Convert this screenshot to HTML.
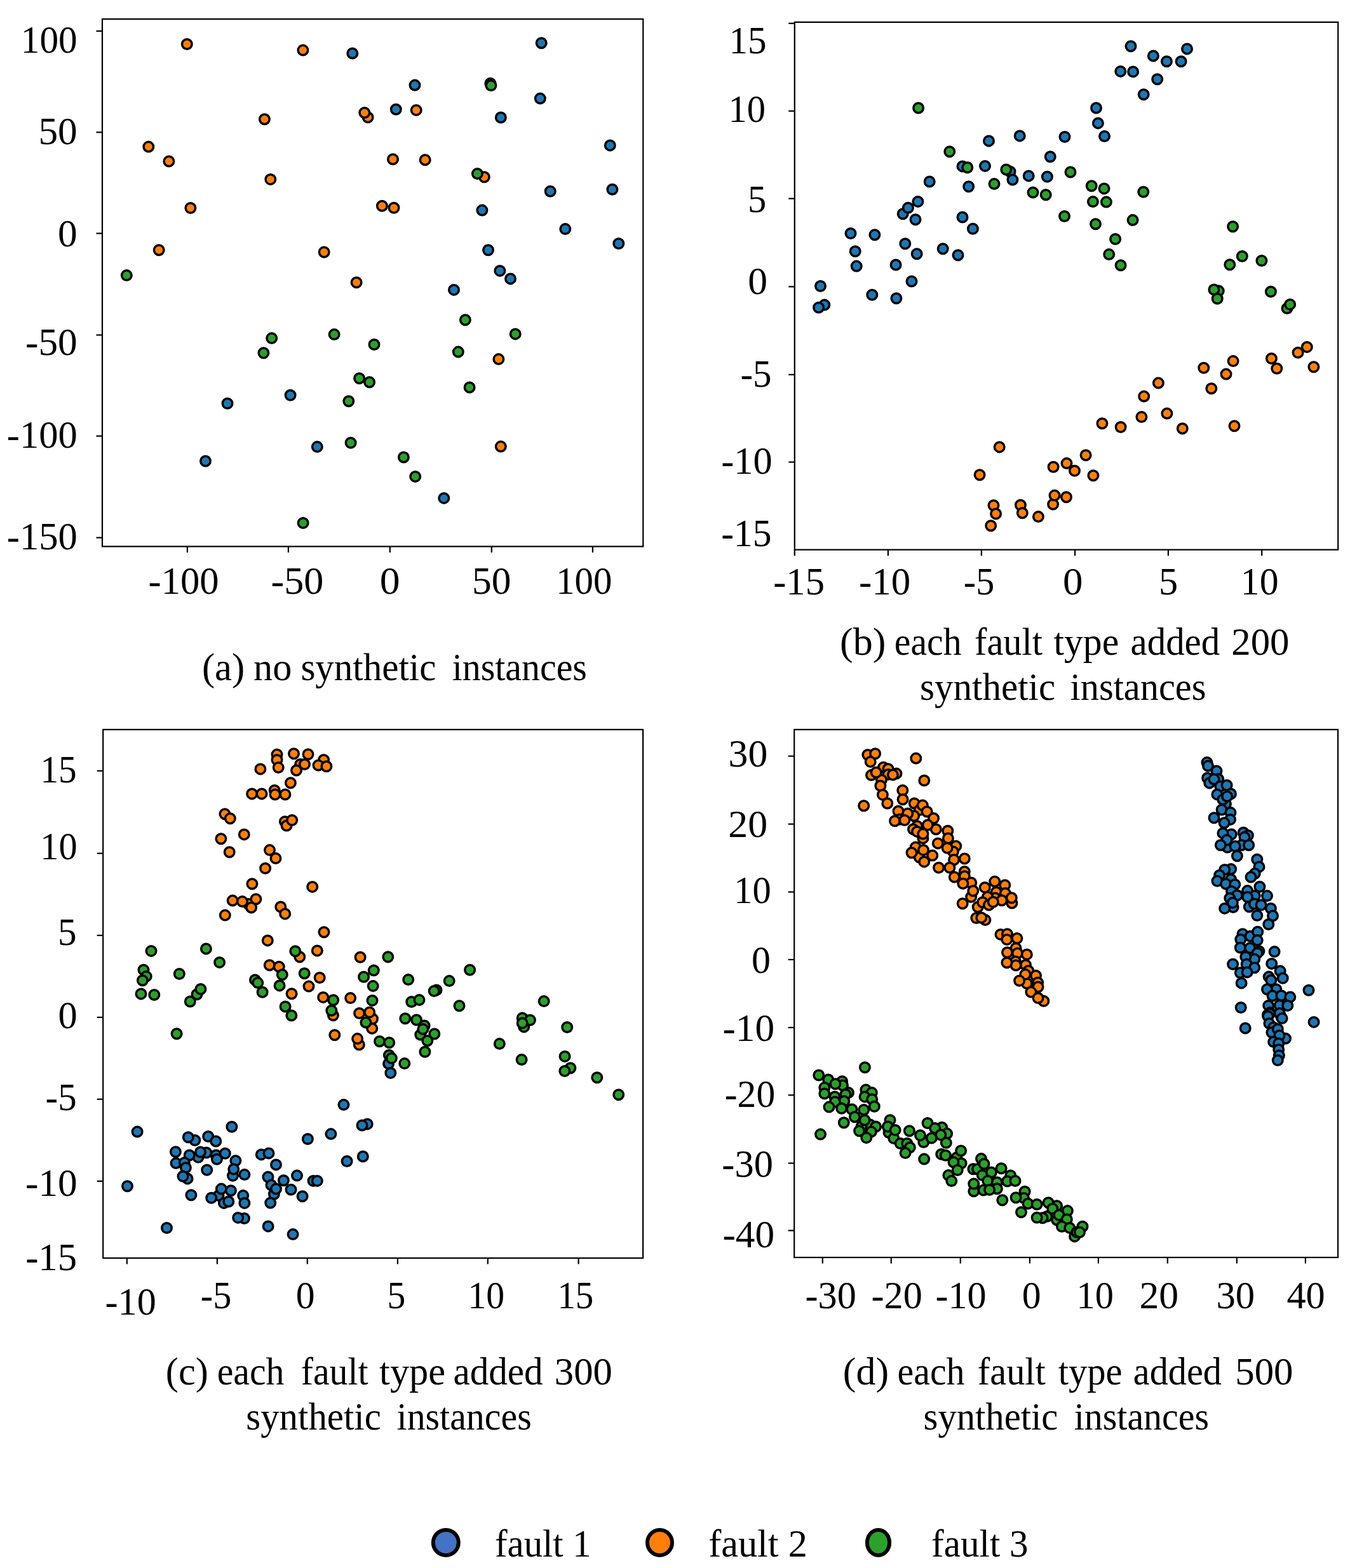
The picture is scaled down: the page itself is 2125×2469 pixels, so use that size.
<!DOCTYPE html>
<html><head><meta charset="utf-8"><title>t-SNE fault scatter plots</title>
<style>
html,body{margin:0;padding:0;background:#fff;}
body{width:2125px;height:2469px;overflow:hidden;}
svg{display:block;}
text{font-family:"Liberation Serif","Times New Roman",serif;fill:#000;font-kerning:none;}
</style></head><body>
<svg width="2125" height="2469" viewBox="0 0 2125 2469">
<rect width="2125" height="2469" fill="#fff"/>
<g stroke="#000" stroke-width="3.5">
<circle cx="294.3" cy="69.5" r="7.75" fill="#ff7f0e"/>
<circle cx="476.9" cy="79.1" r="7.75" fill="#ff7f0e"/>
<circle cx="554.8" cy="84.0" r="7.75" fill="#1f77b4"/>
<circle cx="579.1" cy="184.8" r="7.75" fill="#ff7f0e"/>
<circle cx="573.8" cy="177.5" r="7.75" fill="#ff7f0e"/>
<circle cx="416.4" cy="187.7" r="7.75" fill="#ff7f0e"/>
<circle cx="233.8" cy="231.1" r="7.75" fill="#ff7f0e"/>
<circle cx="265.9" cy="254.0" r="7.75" fill="#ff7f0e"/>
<circle cx="425.8" cy="282.4" r="7.75" fill="#ff7f0e"/>
<circle cx="299.9" cy="327.5" r="7.75" fill="#ff7f0e"/>
<circle cx="250.2" cy="393.8" r="7.75" fill="#ff7f0e"/>
<circle cx="510.2" cy="397.0" r="7.75" fill="#ff7f0e"/>
<circle cx="199.3" cy="433.6" r="7.75" fill="#2ca02c"/>
<circle cx="561.1" cy="444.7" r="7.75" fill="#ff7f0e"/>
<circle cx="852.2" cy="67.8" r="7.75" fill="#1f77b4"/>
<circle cx="653.0" cy="134.1" r="7.75" fill="#1f77b4"/>
<circle cx="771.9" cy="131.2" r="7.75" fill="#1f77b4"/>
<circle cx="772.9" cy="134.6" r="7.75" fill="#2ca02c"/>
<circle cx="850.3" cy="155.1" r="7.75" fill="#1f77b4"/>
<circle cx="623.3" cy="172.2" r="7.75" fill="#1f77b4"/>
<circle cx="655.2" cy="173.4" r="7.75" fill="#ff7f0e"/>
<circle cx="788.3" cy="185.0" r="7.75" fill="#1f77b4"/>
<circle cx="960.3" cy="228.9" r="7.75" fill="#1f77b4"/>
<circle cx="618.5" cy="250.8" r="7.75" fill="#ff7f0e"/>
<circle cx="669.2" cy="251.8" r="7.75" fill="#ff7f0e"/>
<circle cx="762.3" cy="278.8" r="7.75" fill="#ff7f0e"/>
<circle cx="751.4" cy="273.5" r="7.75" fill="#2ca02c"/>
<circle cx="866.2" cy="301.2" r="7.75" fill="#1f77b4"/>
<circle cx="963.9" cy="298.3" r="7.75" fill="#1f77b4"/>
<circle cx="601.4" cy="324.2" r="7.75" fill="#ff7f0e"/>
<circle cx="620.0" cy="327.3" r="7.75" fill="#ff7f0e"/>
<circle cx="758.9" cy="331.1" r="7.75" fill="#1f77b4"/>
<circle cx="889.8" cy="360.6" r="7.75" fill="#1f77b4"/>
<circle cx="973.8" cy="383.5" r="7.75" fill="#1f77b4"/>
<circle cx="768.5" cy="393.8" r="7.75" fill="#1f77b4"/>
<circle cx="786.9" cy="426.4" r="7.75" fill="#1f77b4"/>
<circle cx="803.5" cy="438.9" r="7.75" fill="#1f77b4"/>
<circle cx="427.7" cy="532.6" r="7.75" fill="#2ca02c"/>
<circle cx="414.9" cy="555.8" r="7.75" fill="#2ca02c"/>
<circle cx="526.1" cy="526.6" r="7.75" fill="#2ca02c"/>
<circle cx="565.6" cy="595.8" r="7.75" fill="#2ca02c"/>
<circle cx="581.6" cy="601.8" r="7.75" fill="#2ca02c"/>
<circle cx="457.1" cy="622.3" r="7.75" fill="#1f77b4"/>
<circle cx="358.0" cy="635.3" r="7.75" fill="#1f77b4"/>
<circle cx="548.8" cy="631.7" r="7.75" fill="#2ca02c"/>
<circle cx="552.1" cy="697.3" r="7.75" fill="#2ca02c"/>
<circle cx="499.3" cy="703.6" r="7.75" fill="#1f77b4"/>
<circle cx="323.5" cy="726.0" r="7.75" fill="#1f77b4"/>
<circle cx="477.1" cy="823.5" r="7.75" fill="#2ca02c"/>
<circle cx="589.0" cy="542.5" r="7.75" fill="#2ca02c"/>
<circle cx="714.5" cy="456.4" r="7.75" fill="#1f77b4"/>
<circle cx="732.4" cy="503.7" r="7.75" fill="#2ca02c"/>
<circle cx="811.2" cy="525.9" r="7.75" fill="#2ca02c"/>
<circle cx="721.3" cy="554.1" r="7.75" fill="#2ca02c"/>
<circle cx="784.9" cy="565.6" r="7.75" fill="#ff7f0e"/>
<circle cx="739.1" cy="610.0" r="7.75" fill="#2ca02c"/>
<circle cx="788.3" cy="703.1" r="7.75" fill="#ff7f0e"/>
<circle cx="635.4" cy="720.0" r="7.75" fill="#2ca02c"/>
<circle cx="653.7" cy="750.4" r="7.75" fill="#2ca02c"/>
<circle cx="698.8" cy="784.4" r="7.75" fill="#1f77b4"/>
<circle cx="1445.6" cy="170.0" r="7.75" fill="#2ca02c"/>
<circle cx="1605.2" cy="213.9" r="7.75" fill="#1f77b4"/>
<circle cx="1556.5" cy="221.9" r="7.75" fill="#1f77b4"/>
<circle cx="1494.8" cy="238.8" r="7.75" fill="#2ca02c"/>
<circle cx="1653.2" cy="246.7" r="7.75" fill="#1f77b4"/>
<circle cx="1515.0" cy="261.9" r="7.75" fill="#1f77b4"/>
<circle cx="1522.8" cy="263.8" r="7.75" fill="#2ca02c"/>
<circle cx="1550.5" cy="261.4" r="7.75" fill="#1f77b4"/>
<circle cx="1590.0" cy="270.3" r="7.75" fill="#1f77b4"/>
<circle cx="1593.9" cy="283.1" r="7.75" fill="#1f77b4"/>
<circle cx="1583.8" cy="267.0" r="7.75" fill="#2ca02c"/>
<circle cx="1619.2" cy="276.9" r="7.75" fill="#1f77b4"/>
<circle cx="1648.4" cy="278.3" r="7.75" fill="#1f77b4"/>
<circle cx="1463.2" cy="286.0" r="7.75" fill="#1f77b4"/>
<circle cx="1524.7" cy="293.7" r="7.75" fill="#1f77b4"/>
<circle cx="1565.0" cy="289.6" r="7.75" fill="#2ca02c"/>
<circle cx="1626.0" cy="303.1" r="7.75" fill="#2ca02c"/>
<circle cx="1646.2" cy="306.8" r="7.75" fill="#2ca02c"/>
<circle cx="1444.9" cy="317.4" r="7.75" fill="#1f77b4"/>
<circle cx="1421.2" cy="336.7" r="7.75" fill="#1f77b4"/>
<circle cx="1429.4" cy="327.3" r="7.75" fill="#1f77b4"/>
<circle cx="1441.0" cy="345.8" r="7.75" fill="#1f77b4"/>
<circle cx="1515.0" cy="342.0" r="7.75" fill="#1f77b4"/>
<circle cx="1531.4" cy="360.3" r="7.75" fill="#1f77b4"/>
<circle cx="1339.0" cy="367.5" r="7.75" fill="#1f77b4"/>
<circle cx="1376.9" cy="369.7" r="7.75" fill="#1f77b4"/>
<circle cx="1424.8" cy="383.7" r="7.75" fill="#1f77b4"/>
<circle cx="1346.2" cy="395.7" r="7.75" fill="#1f77b4"/>
<circle cx="1443.2" cy="399.8" r="7.75" fill="#1f77b4"/>
<circle cx="1484.2" cy="391.7" r="7.75" fill="#1f77b4"/>
<circle cx="1508.0" cy="401.8" r="7.75" fill="#1f77b4"/>
<circle cx="1348.2" cy="419.1" r="7.75" fill="#1f77b4"/>
<circle cx="1410.1" cy="417.0" r="7.75" fill="#1f77b4"/>
<circle cx="1435.0" cy="443.0" r="7.75" fill="#1f77b4"/>
<circle cx="1676.0" cy="215.5" r="7.75" fill="#1f77b4"/>
<circle cx="1685.0" cy="271.0" r="7.75" fill="#2ca02c"/>
<circle cx="1675.5" cy="340.5" r="7.75" fill="#2ca02c"/>
<circle cx="1780.0" cy="72.8" r="7.75" fill="#1f77b4"/>
<circle cx="1868.5" cy="76.9" r="7.75" fill="#1f77b4"/>
<circle cx="1815.4" cy="88.0" r="7.75" fill="#1f77b4"/>
<circle cx="1836.4" cy="96.7" r="7.75" fill="#1f77b4"/>
<circle cx="1859.1" cy="96.7" r="7.75" fill="#1f77b4"/>
<circle cx="1763.8" cy="112.4" r="7.75" fill="#1f77b4"/>
<circle cx="1783.6" cy="112.9" r="7.75" fill="#1f77b4"/>
<circle cx="1821.7" cy="124.7" r="7.75" fill="#1f77b4"/>
<circle cx="1800.2" cy="148.8" r="7.75" fill="#1f77b4"/>
<circle cx="1725.5" cy="170.0" r="7.75" fill="#1f77b4"/>
<circle cx="1728.4" cy="193.9" r="7.75" fill="#1f77b4"/>
<circle cx="1738.5" cy="214.6" r="7.75" fill="#1f77b4"/>
<circle cx="1718.2" cy="292.8" r="7.75" fill="#2ca02c"/>
<circle cx="1738.0" cy="296.9" r="7.75" fill="#2ca02c"/>
<circle cx="1799.8" cy="302.2" r="7.75" fill="#2ca02c"/>
<circle cx="1720.4" cy="317.6" r="7.75" fill="#2ca02c"/>
<circle cx="1741.4" cy="318.1" r="7.75" fill="#2ca02c"/>
<circle cx="1724.5" cy="352.8" r="7.75" fill="#2ca02c"/>
<circle cx="1783.1" cy="346.6" r="7.75" fill="#2ca02c"/>
<circle cx="1940.6" cy="356.7" r="7.75" fill="#2ca02c"/>
<circle cx="1755.6" cy="376.5" r="7.75" fill="#2ca02c"/>
<circle cx="1745.7" cy="400.6" r="7.75" fill="#2ca02c"/>
<circle cx="1764.1" cy="417.7" r="7.75" fill="#2ca02c"/>
<circle cx="1955.3" cy="403.5" r="7.75" fill="#2ca02c"/>
<circle cx="1985.9" cy="410.5" r="7.75" fill="#2ca02c"/>
<circle cx="1935.8" cy="416.7" r="7.75" fill="#2ca02c"/>
<circle cx="1291.5" cy="450.5" r="7.75" fill="#1f77b4"/>
<circle cx="1372.8" cy="464.2" r="7.75" fill="#1f77b4"/>
<circle cx="1410.9" cy="469.7" r="7.75" fill="#1f77b4"/>
<circle cx="1297.8" cy="480.1" r="7.75" fill="#1f77b4"/>
<circle cx="1288.6" cy="484.2" r="7.75" fill="#1f77b4"/>
<circle cx="1573.2" cy="703.9" r="7.75" fill="#ff7f0e"/>
<circle cx="1542.1" cy="747.8" r="7.75" fill="#ff7f0e"/>
<circle cx="1658.1" cy="735.2" r="7.75" fill="#ff7f0e"/>
<circle cx="1657.6" cy="794.1" r="7.75" fill="#ff7f0e"/>
<circle cx="1660.0" cy="780.1" r="7.75" fill="#ff7f0e"/>
<circle cx="1564.0" cy="795.8" r="7.75" fill="#ff7f0e"/>
<circle cx="1567.6" cy="809.0" r="7.75" fill="#ff7f0e"/>
<circle cx="1606.4" cy="795.3" r="7.75" fill="#ff7f0e"/>
<circle cx="1609.3" cy="807.8" r="7.75" fill="#ff7f0e"/>
<circle cx="1634.4" cy="813.6" r="7.75" fill="#ff7f0e"/>
<circle cx="1559.7" cy="827.8" r="7.75" fill="#ff7f0e"/>
<circle cx="1679.0" cy="729.6" r="7.75" fill="#ff7f0e"/>
<circle cx="1678.5" cy="782.7" r="7.75" fill="#ff7f0e"/>
<circle cx="1918.2" cy="458.1" r="7.75" fill="#2ca02c"/>
<circle cx="1910.9" cy="456.0" r="7.75" fill="#2ca02c"/>
<circle cx="1916.2" cy="470.2" r="7.75" fill="#2ca02c"/>
<circle cx="2000.4" cy="459.3" r="7.75" fill="#2ca02c"/>
<circle cx="2026.0" cy="485.6" r="7.75" fill="#2ca02c"/>
<circle cx="2030.6" cy="479.4" r="7.75" fill="#2ca02c"/>
<circle cx="2057.3" cy="546.4" r="7.75" fill="#ff7f0e"/>
<circle cx="2043.1" cy="555.3" r="7.75" fill="#ff7f0e"/>
<circle cx="2001.4" cy="564.5" r="7.75" fill="#ff7f0e"/>
<circle cx="2009.8" cy="580.2" r="7.75" fill="#ff7f0e"/>
<circle cx="2067.9" cy="577.7" r="7.75" fill="#ff7f0e"/>
<circle cx="1941.1" cy="568.6" r="7.75" fill="#ff7f0e"/>
<circle cx="1894.8" cy="579.2" r="7.75" fill="#ff7f0e"/>
<circle cx="1930.0" cy="589.1" r="7.75" fill="#ff7f0e"/>
<circle cx="1906.8" cy="611.8" r="7.75" fill="#ff7f0e"/>
<circle cx="1823.4" cy="603.1" r="7.75" fill="#ff7f0e"/>
<circle cx="1800.7" cy="624.1" r="7.75" fill="#ff7f0e"/>
<circle cx="1796.9" cy="656.6" r="7.75" fill="#ff7f0e"/>
<circle cx="1836.9" cy="651.1" r="7.75" fill="#ff7f0e"/>
<circle cx="1734.9" cy="666.7" r="7.75" fill="#ff7f0e"/>
<circle cx="1764.1" cy="672.5" r="7.75" fill="#ff7f0e"/>
<circle cx="1861.3" cy="674.7" r="7.75" fill="#ff7f0e"/>
<circle cx="1943.0" cy="670.8" r="7.75" fill="#ff7f0e"/>
<circle cx="1709.1" cy="716.7" r="7.75" fill="#ff7f0e"/>
<circle cx="1691.5" cy="741.3" r="7.75" fill="#ff7f0e"/>
<circle cx="1720.9" cy="748.7" r="7.75" fill="#ff7f0e"/>
<circle cx="436.0" cy="1188.1" r="7.75" fill="#ff7f0e"/>
<circle cx="436.0" cy="1196.5" r="7.75" fill="#ff7f0e"/>
<circle cx="438.2" cy="1208.6" r="7.75" fill="#ff7f0e"/>
<circle cx="462.5" cy="1186.7" r="7.75" fill="#ff7f0e"/>
<circle cx="485.0" cy="1187.8" r="7.75" fill="#ff7f0e"/>
<circle cx="472.7" cy="1203.5" r="7.75" fill="#ff7f0e"/>
<circle cx="479.5" cy="1203.5" r="7.75" fill="#ff7f0e"/>
<circle cx="466.5" cy="1213.0" r="7.75" fill="#ff7f0e"/>
<circle cx="509.6" cy="1196.5" r="7.75" fill="#ff7f0e"/>
<circle cx="501.0" cy="1205.1" r="7.75" fill="#ff7f0e"/>
<circle cx="513.9" cy="1206.7" r="7.75" fill="#ff7f0e"/>
<circle cx="409.9" cy="1210.9" r="7.75" fill="#ff7f0e"/>
<circle cx="457.4" cy="1232.7" r="7.75" fill="#ff7f0e"/>
<circle cx="396.6" cy="1249.9" r="7.75" fill="#ff7f0e"/>
<circle cx="412.0" cy="1249.9" r="7.75" fill="#ff7f0e"/>
<circle cx="432.2" cy="1244.4" r="7.75" fill="#ff7f0e"/>
<circle cx="433.0" cy="1251.0" r="7.75" fill="#ff7f0e"/>
<circle cx="448.9" cy="1251.0" r="7.75" fill="#ff7f0e"/>
<circle cx="353.9" cy="1281.7" r="7.75" fill="#ff7f0e"/>
<circle cx="362.3" cy="1288.8" r="7.75" fill="#ff7f0e"/>
<circle cx="448.4" cy="1293.8" r="7.75" fill="#ff7f0e"/>
<circle cx="451.1" cy="1300.1" r="7.75" fill="#ff7f0e"/>
<circle cx="459.7" cy="1291.5" r="7.75" fill="#ff7f0e"/>
<circle cx="384.3" cy="1313.9" r="7.75" fill="#ff7f0e"/>
<circle cx="347.9" cy="1320.7" r="7.75" fill="#ff7f0e"/>
<circle cx="361.2" cy="1341.7" r="7.75" fill="#ff7f0e"/>
<circle cx="424.5" cy="1338.6" r="7.75" fill="#ff7f0e"/>
<circle cx="434.0" cy="1351.6" r="7.75" fill="#ff7f0e"/>
<circle cx="417.6" cy="1367.3" r="7.75" fill="#ff7f0e"/>
<circle cx="396.9" cy="1391.7" r="7.75" fill="#ff7f0e"/>
<circle cx="491.7" cy="1396.4" r="7.75" fill="#ff7f0e"/>
<circle cx="441.8" cy="1428.0" r="7.75" fill="#ff7f0e"/>
<circle cx="366.2" cy="1418.1" r="7.75" fill="#ff7f0e"/>
<circle cx="390.8" cy="1423.6" r="7.75" fill="#ff7f0e"/>
<circle cx="381.4" cy="1419.6" r="7.75" fill="#ff7f0e"/>
<circle cx="402.9" cy="1415.7" r="7.75" fill="#ff7f0e"/>
<circle cx="395.6" cy="1429.1" r="7.75" fill="#ff7f0e"/>
<circle cx="354.3" cy="1441.1" r="7.75" fill="#ff7f0e"/>
<circle cx="421.3" cy="1480.9" r="7.75" fill="#ff7f0e"/>
<circle cx="424.3" cy="1519.7" r="7.75" fill="#ff7f0e"/>
<circle cx="238.0" cy="1497.4" r="7.75" fill="#2ca02c"/>
<circle cx="324.4" cy="1493.9" r="7.75" fill="#2ca02c"/>
<circle cx="345.6" cy="1515.4" r="7.75" fill="#2ca02c"/>
<circle cx="226.0" cy="1527.2" r="7.75" fill="#2ca02c"/>
<circle cx="230.2" cy="1537.4" r="7.75" fill="#2ca02c"/>
<circle cx="224.4" cy="1543.7" r="7.75" fill="#2ca02c"/>
<circle cx="282.3" cy="1533.5" r="7.75" fill="#2ca02c"/>
<circle cx="222.0" cy="1564.9" r="7.75" fill="#2ca02c"/>
<circle cx="242.8" cy="1566.5" r="7.75" fill="#2ca02c"/>
<circle cx="310.0" cy="1565.7" r="7.75" fill="#2ca02c"/>
<circle cx="315.9" cy="1557.5" r="7.75" fill="#2ca02c"/>
<circle cx="299.3" cy="1577.0" r="7.75" fill="#2ca02c"/>
<circle cx="401.5" cy="1542.9" r="7.75" fill="#2ca02c"/>
<circle cx="405.8" cy="1547.6" r="7.75" fill="#2ca02c"/>
<circle cx="413.1" cy="1562.2" r="7.75" fill="#2ca02c"/>
<circle cx="278.1" cy="1627.7" r="7.75" fill="#2ca02c"/>
<circle cx="448.7" cy="1438.9" r="7.75" fill="#ff7f0e"/>
<circle cx="510.0" cy="1467.8" r="7.75" fill="#ff7f0e"/>
<circle cx="499.3" cy="1496.9" r="7.75" fill="#ff7f0e"/>
<circle cx="471.8" cy="1506.8" r="7.75" fill="#ff7f0e"/>
<circle cx="464.8" cy="1497.7" r="7.75" fill="#2ca02c"/>
<circle cx="567.1" cy="1507.3" r="7.75" fill="#ff7f0e"/>
<circle cx="439.2" cy="1522.2" r="7.75" fill="#ff7f0e"/>
<circle cx="444.3" cy="1534.7" r="7.75" fill="#2ca02c"/>
<circle cx="503.2" cy="1539.5" r="7.75" fill="#ff7f0e"/>
<circle cx="486.0" cy="1553.1" r="7.75" fill="#ff7f0e"/>
<circle cx="459.1" cy="1564.7" r="7.75" fill="#ff7f0e"/>
<circle cx="508.7" cy="1570.4" r="7.75" fill="#ff7f0e"/>
<circle cx="551.6" cy="1571.6" r="7.75" fill="#ff7f0e"/>
<circle cx="565.6" cy="1595.5" r="7.75" fill="#ff7f0e"/>
<circle cx="586.5" cy="1604.2" r="7.75" fill="#ff7f0e"/>
<circle cx="581.7" cy="1593.9" r="7.75" fill="#ff7f0e"/>
<circle cx="585.7" cy="1619.4" r="7.75" fill="#ff7f0e"/>
<circle cx="524.4" cy="1598.7" r="7.75" fill="#ff7f0e"/>
<circle cx="526.8" cy="1629.7" r="7.75" fill="#ff7f0e"/>
<circle cx="565.3" cy="1645.0" r="7.75" fill="#ff7f0e"/>
<circle cx="562.6" cy="1635.6" r="7.75" fill="#ff7f0e"/>
<circle cx="479.2" cy="1532.7" r="7.75" fill="#2ca02c"/>
<circle cx="440.1" cy="1551.9" r="7.75" fill="#2ca02c"/>
<circle cx="610.8" cy="1506.8" r="7.75" fill="#2ca02c"/>
<circle cx="588.3" cy="1528.0" r="7.75" fill="#2ca02c"/>
<circle cx="572.6" cy="1538.2" r="7.75" fill="#2ca02c"/>
<circle cx="587.2" cy="1552.6" r="7.75" fill="#2ca02c"/>
<circle cx="642.7" cy="1542.6" r="7.75" fill="#2ca02c"/>
<circle cx="687.0" cy="1558.9" r="7.75" fill="#2ca02c"/>
<circle cx="683.2" cy="1560.5" r="7.75" fill="#2ca02c"/>
<circle cx="524.7" cy="1574.8" r="7.75" fill="#2ca02c"/>
<circle cx="521.8" cy="1591.3" r="7.75" fill="#2ca02c"/>
<circle cx="586.0" cy="1575.4" r="7.75" fill="#2ca02c"/>
<circle cx="647.7" cy="1577.5" r="7.75" fill="#2ca02c"/>
<circle cx="660.0" cy="1574.6" r="7.75" fill="#2ca02c"/>
<circle cx="449.1" cy="1585.0" r="7.75" fill="#2ca02c"/>
<circle cx="458.8" cy="1599.0" r="7.75" fill="#2ca02c"/>
<circle cx="575.9" cy="1610.1" r="7.75" fill="#2ca02c"/>
<circle cx="637.8" cy="1603.7" r="7.75" fill="#2ca02c"/>
<circle cx="655.6" cy="1606.0" r="7.75" fill="#2ca02c"/>
<circle cx="668.1" cy="1615.1" r="7.75" fill="#2ca02c"/>
<circle cx="661.8" cy="1629.3" r="7.75" fill="#2ca02c"/>
<circle cx="665.8" cy="1620.6" r="7.75" fill="#2ca02c"/>
<circle cx="683.8" cy="1628.0" r="7.75" fill="#2ca02c"/>
<circle cx="672.8" cy="1638.7" r="7.75" fill="#2ca02c"/>
<circle cx="597.5" cy="1639.8" r="7.75" fill="#2ca02c"/>
<circle cx="612.7" cy="1641.8" r="7.75" fill="#2ca02c"/>
<circle cx="668.9" cy="1656.3" r="7.75" fill="#2ca02c"/>
<circle cx="612.4" cy="1661.5" r="7.75" fill="#2ca02c"/>
<circle cx="611.6" cy="1674.9" r="7.75" fill="#1f77b4"/>
<circle cx="616.3" cy="1666.2" r="7.75" fill="#2ca02c"/>
<circle cx="739.6" cy="1527.3" r="7.75" fill="#2ca02c"/>
<circle cx="707.2" cy="1544.6" r="7.75" fill="#2ca02c"/>
<circle cx="723.0" cy="1583.7" r="7.75" fill="#2ca02c"/>
<circle cx="856.2" cy="1576.6" r="7.75" fill="#2ca02c"/>
<circle cx="822.2" cy="1602.9" r="7.75" fill="#2ca02c"/>
<circle cx="834.4" cy="1606.2" r="7.75" fill="#2ca02c"/>
<circle cx="824.7" cy="1616.9" r="7.75" fill="#2ca02c"/>
<circle cx="822.2" cy="1610.9" r="7.75" fill="#2ca02c"/>
<circle cx="892.7" cy="1617.5" r="7.75" fill="#2ca02c"/>
<circle cx="786.3" cy="1643.6" r="7.75" fill="#2ca02c"/>
<circle cx="821.1" cy="1668.6" r="7.75" fill="#2ca02c"/>
<circle cx="889.1" cy="1663.4" r="7.75" fill="#2ca02c"/>
<circle cx="897.9" cy="1681.8" r="7.75" fill="#2ca02c"/>
<circle cx="888.9" cy="1686.5" r="7.75" fill="#2ca02c"/>
<circle cx="939.8" cy="1696.8" r="7.75" fill="#2ca02c"/>
<circle cx="973.7" cy="1723.7" r="7.75" fill="#2ca02c"/>
<circle cx="216.1" cy="1782.1" r="7.75" fill="#1f77b4"/>
<circle cx="364.9" cy="1774.3" r="7.75" fill="#1f77b4"/>
<circle cx="306.8" cy="1795.5" r="7.75" fill="#1f77b4"/>
<circle cx="296.3" cy="1790.8" r="7.75" fill="#1f77b4"/>
<circle cx="327.7" cy="1789.5" r="7.75" fill="#1f77b4"/>
<circle cx="339.8" cy="1797.0" r="7.75" fill="#1f77b4"/>
<circle cx="276.4" cy="1813.8" r="7.75" fill="#1f77b4"/>
<circle cx="312.0" cy="1822.2" r="7.75" fill="#1f77b4"/>
<circle cx="298.2" cy="1819.0" r="7.75" fill="#1f77b4"/>
<circle cx="324.9" cy="1815.1" r="7.75" fill="#1f77b4"/>
<circle cx="315.5" cy="1814.0" r="7.75" fill="#1f77b4"/>
<circle cx="340.1" cy="1819.0" r="7.75" fill="#1f77b4"/>
<circle cx="341.4" cy="1825.3" r="7.75" fill="#1f77b4"/>
<circle cx="354.3" cy="1816.2" r="7.75" fill="#1f77b4"/>
<circle cx="277.0" cy="1831.6" r="7.75" fill="#1f77b4"/>
<circle cx="290.3" cy="1830.8" r="7.75" fill="#1f77b4"/>
<circle cx="292.4" cy="1838.7" r="7.75" fill="#1f77b4"/>
<circle cx="325.7" cy="1842.3" r="7.75" fill="#1f77b4"/>
<circle cx="370.9" cy="1827.7" r="7.75" fill="#1f77b4"/>
<circle cx="366.5" cy="1851.2" r="7.75" fill="#1f77b4"/>
<circle cx="367.8" cy="1841.0" r="7.75" fill="#1f77b4"/>
<circle cx="384.9" cy="1849.6" r="7.75" fill="#1f77b4"/>
<circle cx="295.1" cy="1855.9" r="7.75" fill="#1f77b4"/>
<circle cx="288.0" cy="1852.3" r="7.75" fill="#1f77b4"/>
<circle cx="411.3" cy="1817.9" r="7.75" fill="#1f77b4"/>
<circle cx="423.0" cy="1815.9" r="7.75" fill="#1f77b4"/>
<circle cx="434.5" cy="1833.9" r="7.75" fill="#1f77b4"/>
<circle cx="421.9" cy="1853.3" r="7.75" fill="#1f77b4"/>
<circle cx="427.0" cy="1866.1" r="7.75" fill="#1f77b4"/>
<circle cx="431.4" cy="1880.3" r="7.75" fill="#1f77b4"/>
<circle cx="434.5" cy="1872.1" r="7.75" fill="#1f77b4"/>
<circle cx="425.7" cy="1894.1" r="7.75" fill="#1f77b4"/>
<circle cx="200.5" cy="1867.7" r="7.75" fill="#1f77b4"/>
<circle cx="300.9" cy="1881.8" r="7.75" fill="#1f77b4"/>
<circle cx="344.0" cy="1882.6" r="7.75" fill="#1f77b4"/>
<circle cx="332.7" cy="1886.2" r="7.75" fill="#1f77b4"/>
<circle cx="348.4" cy="1872.1" r="7.75" fill="#1f77b4"/>
<circle cx="363.4" cy="1874.8" r="7.75" fill="#1f77b4"/>
<circle cx="352.4" cy="1894.4" r="7.75" fill="#1f77b4"/>
<circle cx="359.8" cy="1892.0" r="7.75" fill="#1f77b4"/>
<circle cx="382.7" cy="1882.6" r="7.75" fill="#1f77b4"/>
<circle cx="384.9" cy="1894.4" r="7.75" fill="#1f77b4"/>
<circle cx="614.8" cy="1689.5" r="7.75" fill="#1f77b4"/>
<circle cx="636.8" cy="1674.6" r="7.75" fill="#2ca02c"/>
<circle cx="541.0" cy="1739.6" r="7.75" fill="#1f77b4"/>
<circle cx="578.2" cy="1769.9" r="7.75" fill="#1f77b4"/>
<circle cx="570.0" cy="1772.0" r="7.75" fill="#1f77b4"/>
<circle cx="520.9" cy="1785.6" r="7.75" fill="#1f77b4"/>
<circle cx="484.4" cy="1793.5" r="7.75" fill="#1f77b4"/>
<circle cx="571.3" cy="1821.0" r="7.75" fill="#1f77b4"/>
<circle cx="546.1" cy="1828.5" r="7.75" fill="#1f77b4"/>
<circle cx="467.5" cy="1851.1" r="7.75" fill="#1f77b4"/>
<circle cx="446.4" cy="1858.7" r="7.75" fill="#1f77b4"/>
<circle cx="458.0" cy="1873.3" r="7.75" fill="#1f77b4"/>
<circle cx="476.1" cy="1883.8" r="7.75" fill="#1f77b4"/>
<circle cx="493.1" cy="1859.4" r="7.75" fill="#1f77b4"/>
<circle cx="499.3" cy="1859.4" r="7.75" fill="#1f77b4"/>
<circle cx="422.1" cy="1930.9" r="7.75" fill="#1f77b4"/>
<circle cx="384.5" cy="1918.5" r="7.75" fill="#1f77b4"/>
<circle cx="262.5" cy="1933.5" r="7.75" fill="#1f77b4"/>
<circle cx="374.7" cy="1917.4" r="7.75" fill="#1f77b4"/>
<circle cx="461.1" cy="1943.6" r="7.75" fill="#1f77b4"/>
<circle cx="1365.9" cy="1188.5" r="7.75" fill="#ff7f0e"/>
<circle cx="1377.6" cy="1186.7" r="7.75" fill="#ff7f0e"/>
<circle cx="1370.2" cy="1199.6" r="7.75" fill="#ff7f0e"/>
<circle cx="1441.8" cy="1194.1" r="7.75" fill="#ff7f0e"/>
<circle cx="1390.6" cy="1208.3" r="7.75" fill="#ff7f0e"/>
<circle cx="1398.0" cy="1210.7" r="7.75" fill="#ff7f0e"/>
<circle cx="1410.9" cy="1218.1" r="7.75" fill="#ff7f0e"/>
<circle cx="1398.0" cy="1219.4" r="7.75" fill="#ff7f0e"/>
<circle cx="1371.5" cy="1220.6" r="7.75" fill="#ff7f0e"/>
<circle cx="1387.5" cy="1228.0" r="7.75" fill="#ff7f0e"/>
<circle cx="1405.4" cy="1220.0" r="7.75" fill="#ff7f0e"/>
<circle cx="1379.2" cy="1216.3" r="7.75" fill="#ff7f0e"/>
<circle cx="1385.9" cy="1237.2" r="7.75" fill="#ff7f0e"/>
<circle cx="1454.8" cy="1229.0" r="7.75" fill="#ff7f0e"/>
<circle cx="1420.8" cy="1244.4" r="7.75" fill="#ff7f0e"/>
<circle cx="1421.1" cy="1258.8" r="7.75" fill="#ff7f0e"/>
<circle cx="1389.4" cy="1251.4" r="7.75" fill="#ff7f0e"/>
<circle cx="1396.8" cy="1265.0" r="7.75" fill="#ff7f0e"/>
<circle cx="1359.7" cy="1268.7" r="7.75" fill="#ff7f0e"/>
<circle cx="1439.3" cy="1265.0" r="7.75" fill="#ff7f0e"/>
<circle cx="1447.3" cy="1275.5" r="7.75" fill="#ff7f0e"/>
<circle cx="1452.3" cy="1268.1" r="7.75" fill="#ff7f0e"/>
<circle cx="1414.0" cy="1277.3" r="7.75" fill="#ff7f0e"/>
<circle cx="1459.1" cy="1278.0" r="7.75" fill="#ff7f0e"/>
<circle cx="1438.7" cy="1284.8" r="7.75" fill="#ff7f0e"/>
<circle cx="1428.8" cy="1281.0" r="7.75" fill="#ff7f0e"/>
<circle cx="1415.9" cy="1290.3" r="7.75" fill="#ff7f0e"/>
<circle cx="1408.5" cy="1292.8" r="7.75" fill="#ff7f0e"/>
<circle cx="1423.9" cy="1291.5" r="7.75" fill="#ff7f0e"/>
<circle cx="1469.6" cy="1288.5" r="7.75" fill="#ff7f0e"/>
<circle cx="1473.3" cy="1305.7" r="7.75" fill="#ff7f0e"/>
<circle cx="1460.3" cy="1298.9" r="7.75" fill="#ff7f0e"/>
<circle cx="1443.6" cy="1300.8" r="7.75" fill="#ff7f0e"/>
<circle cx="1437.5" cy="1305.7" r="7.75" fill="#ff7f0e"/>
<circle cx="1443.6" cy="1309.4" r="7.75" fill="#ff7f0e"/>
<circle cx="1452.9" cy="1319.9" r="7.75" fill="#ff7f0e"/>
<circle cx="1452.9" cy="1313.1" r="7.75" fill="#ff7f0e"/>
<circle cx="1491.8" cy="1308.2" r="7.75" fill="#ff7f0e"/>
<circle cx="1492.4" cy="1319.9" r="7.75" fill="#ff7f0e"/>
<circle cx="1476.3" cy="1327.9" r="7.75" fill="#ff7f0e"/>
<circle cx="1504.7" cy="1332.3" r="7.75" fill="#ff7f0e"/>
<circle cx="1500.4" cy="1340.9" r="7.75" fill="#ff7f0e"/>
<circle cx="1491.1" cy="1335.3" r="7.75" fill="#ff7f0e"/>
<circle cx="1441.2" cy="1334.1" r="7.75" fill="#ff7f0e"/>
<circle cx="1447.3" cy="1350.1" r="7.75" fill="#ff7f0e"/>
<circle cx="1435.0" cy="1342.7" r="7.75" fill="#ff7f0e"/>
<circle cx="1453.5" cy="1338.4" r="7.75" fill="#ff7f0e"/>
<circle cx="1467.7" cy="1347.1" r="7.75" fill="#ff7f0e"/>
<circle cx="1454.8" cy="1356.9" r="7.75" fill="#ff7f0e"/>
<circle cx="1518.3" cy="1352.0" r="7.75" fill="#ff7f0e"/>
<circle cx="1501.6" cy="1353.8" r="7.75" fill="#ff7f0e"/>
<circle cx="1477.6" cy="1366.2" r="7.75" fill="#ff7f0e"/>
<circle cx="1494.9" cy="1366.2" r="7.75" fill="#ff7f0e"/>
<circle cx="1518.3" cy="1372.4" r="7.75" fill="#ff7f0e"/>
<circle cx="1518.3" cy="1379.8" r="7.75" fill="#ff7f0e"/>
<circle cx="1502.3" cy="1381.0" r="7.75" fill="#ff7f0e"/>
<circle cx="1528.7" cy="1390.0" r="7.75" fill="#ff7f0e"/>
<circle cx="1515.8" cy="1391.2" r="7.75" fill="#ff7f0e"/>
<circle cx="1528.7" cy="1412.2" r="7.75" fill="#ff7f0e"/>
<circle cx="1531.8" cy="1402.7" r="7.75" fill="#ff7f0e"/>
<circle cx="1515.2" cy="1422.7" r="7.75" fill="#ff7f0e"/>
<circle cx="1550.3" cy="1397.4" r="7.75" fill="#ff7f0e"/>
<circle cx="1565.8" cy="1388.1" r="7.75" fill="#ff7f0e"/>
<circle cx="1581.8" cy="1393.7" r="7.75" fill="#ff7f0e"/>
<circle cx="1568.2" cy="1404.8" r="7.75" fill="#ff7f0e"/>
<circle cx="1582.4" cy="1406.6" r="7.75" fill="#ff7f0e"/>
<circle cx="1566.4" cy="1414.0" r="7.75" fill="#ff7f0e"/>
<circle cx="1576.9" cy="1417.7" r="7.75" fill="#ff7f0e"/>
<circle cx="1592.9" cy="1422.1" r="7.75" fill="#ff7f0e"/>
<circle cx="1554.6" cy="1412.2" r="7.75" fill="#ff7f0e"/>
<circle cx="1592.3" cy="1413.8" r="7.75" fill="#ff7f0e"/>
<circle cx="1539.2" cy="1428.2" r="7.75" fill="#ff7f0e"/>
<circle cx="1546.6" cy="1420.8" r="7.75" fill="#ff7f0e"/>
<circle cx="1556.5" cy="1425.1" r="7.75" fill="#ff7f0e"/>
<circle cx="1563.3" cy="1420.2" r="7.75" fill="#ff7f0e"/>
<circle cx="1536.8" cy="1445.5" r="7.75" fill="#ff7f0e"/>
<circle cx="1550.9" cy="1448.6" r="7.75" fill="#ff7f0e"/>
<circle cx="1544.8" cy="1444.9" r="7.75" fill="#ff7f0e"/>
<circle cx="1575.0" cy="1471.4" r="7.75" fill="#ff7f0e"/>
<circle cx="1585.5" cy="1470.8" r="7.75" fill="#ff7f0e"/>
<circle cx="1584.9" cy="1479.4" r="7.75" fill="#ff7f0e"/>
<circle cx="1600.9" cy="1477.6" r="7.75" fill="#ff7f0e"/>
<circle cx="1599.1" cy="1493.0" r="7.75" fill="#ff7f0e"/>
<circle cx="1585.5" cy="1499.8" r="7.75" fill="#ff7f0e"/>
<circle cx="1601.5" cy="1501.0" r="7.75" fill="#ff7f0e"/>
<circle cx="1616.3" cy="1502.9" r="7.75" fill="#ff7f0e"/>
<circle cx="1598.5" cy="1514.0" r="7.75" fill="#ff7f0e"/>
<circle cx="1599.1" cy="1520.1" r="7.75" fill="#ff7f0e"/>
<circle cx="1614.5" cy="1519.5" r="7.75" fill="#ff7f0e"/>
<circle cx="1584.9" cy="1515.8" r="7.75" fill="#ff7f0e"/>
<circle cx="1618.8" cy="1528.8" r="7.75" fill="#ff7f0e"/>
<circle cx="1630.5" cy="1536.2" r="7.75" fill="#ff7f0e"/>
<circle cx="1616.3" cy="1548.5" r="7.75" fill="#ff7f0e"/>
<circle cx="1613.9" cy="1534.3" r="7.75" fill="#ff7f0e"/>
<circle cx="1604.6" cy="1544.2" r="7.75" fill="#ff7f0e"/>
<circle cx="1633.6" cy="1547.3" r="7.75" fill="#ff7f0e"/>
<circle cx="1634.0" cy="1554.0" r="7.75" fill="#ff7f0e"/>
<circle cx="1642.8" cy="1576.2" r="7.75" fill="#ff7f0e"/>
<circle cx="1622.9" cy="1562.1" r="7.75" fill="#ff7f0e"/>
<circle cx="1634.0" cy="1571.5" r="7.75" fill="#ff7f0e"/>
<circle cx="1899.9" cy="1200.6" r="7.75" fill="#1f77b4"/>
<circle cx="1901.5" cy="1206.0" r="7.75" fill="#1f77b4"/>
<circle cx="1915.0" cy="1214.1" r="7.75" fill="#1f77b4"/>
<circle cx="1900.6" cy="1224.9" r="7.75" fill="#1f77b4"/>
<circle cx="1903.8" cy="1232.9" r="7.75" fill="#1f77b4"/>
<circle cx="1917.7" cy="1226.7" r="7.75" fill="#1f77b4"/>
<circle cx="1911.0" cy="1227.1" r="7.75" fill="#1f77b4"/>
<circle cx="1920.8" cy="1238.3" r="7.75" fill="#1f77b4"/>
<circle cx="1931.1" cy="1236.5" r="7.75" fill="#1f77b4"/>
<circle cx="1915.9" cy="1250.9" r="7.75" fill="#1f77b4"/>
<circle cx="1937.4" cy="1250.0" r="7.75" fill="#1f77b4"/>
<circle cx="1929.4" cy="1266.1" r="7.75" fill="#1f77b4"/>
<circle cx="1924.9" cy="1259.0" r="7.75" fill="#1f77b4"/>
<circle cx="1931.6" cy="1254.0" r="7.75" fill="#1f77b4"/>
<circle cx="1923.1" cy="1275.1" r="7.75" fill="#1f77b4"/>
<circle cx="1937.0" cy="1279.6" r="7.75" fill="#1f77b4"/>
<circle cx="1911.0" cy="1287.7" r="7.75" fill="#1f77b4"/>
<circle cx="1936.5" cy="1290.4" r="7.75" fill="#1f77b4"/>
<circle cx="1927.1" cy="1295.8" r="7.75" fill="#1f77b4"/>
<circle cx="1938.3" cy="1313.7" r="7.75" fill="#1f77b4"/>
<circle cx="1924.9" cy="1311.9" r="7.75" fill="#1f77b4"/>
<circle cx="1957.2" cy="1311.0" r="7.75" fill="#1f77b4"/>
<circle cx="1964.4" cy="1315.5" r="7.75" fill="#1f77b4"/>
<circle cx="1959.0" cy="1318.2" r="7.75" fill="#1f77b4"/>
<circle cx="1932.0" cy="1334.3" r="7.75" fill="#1f77b4"/>
<circle cx="1954.5" cy="1330.8" r="7.75" fill="#1f77b4"/>
<circle cx="1931.1" cy="1322.7" r="7.75" fill="#1f77b4"/>
<circle cx="1921.3" cy="1330.8" r="7.75" fill="#1f77b4"/>
<circle cx="1944.2" cy="1332.6" r="7.75" fill="#1f77b4"/>
<circle cx="1965.7" cy="1330.8" r="7.75" fill="#1f77b4"/>
<circle cx="1947.4" cy="1347.8" r="7.75" fill="#1f77b4"/>
<circle cx="1978.8" cy="1353.2" r="7.75" fill="#1f77b4"/>
<circle cx="1982.0" cy="1364.9" r="7.75" fill="#1f77b4"/>
<circle cx="1975.2" cy="1375.6" r="7.75" fill="#1f77b4"/>
<circle cx="1969.0" cy="1381.0" r="7.75" fill="#1f77b4"/>
<circle cx="1937.6" cy="1368.5" r="7.75" fill="#1f77b4"/>
<circle cx="1927.7" cy="1369.4" r="7.75" fill="#1f77b4"/>
<circle cx="1919.6" cy="1378.3" r="7.75" fill="#1f77b4"/>
<circle cx="1916.0" cy="1387.3" r="7.75" fill="#1f77b4"/>
<circle cx="1937.6" cy="1384.6" r="7.75" fill="#1f77b4"/>
<circle cx="1929.5" cy="1391.8" r="7.75" fill="#1f77b4"/>
<circle cx="1943.8" cy="1392.7" r="7.75" fill="#1f77b4"/>
<circle cx="1938.5" cy="1403.5" r="7.75" fill="#1f77b4"/>
<circle cx="1947.4" cy="1409.7" r="7.75" fill="#1f77b4"/>
<circle cx="1935.8" cy="1414.2" r="7.75" fill="#1f77b4"/>
<circle cx="1941.1" cy="1428.6" r="7.75" fill="#1f77b4"/>
<circle cx="1940.3" cy="1421.4" r="7.75" fill="#1f77b4"/>
<circle cx="1927.7" cy="1430.4" r="7.75" fill="#1f77b4"/>
<circle cx="1963.6" cy="1402.6" r="7.75" fill="#1f77b4"/>
<circle cx="1975.2" cy="1410.6" r="7.75" fill="#1f77b4"/>
<circle cx="1982.9" cy="1396.3" r="7.75" fill="#1f77b4"/>
<circle cx="1963.6" cy="1412.4" r="7.75" fill="#1f77b4"/>
<circle cx="1994.5" cy="1410.6" r="7.75" fill="#1f77b4"/>
<circle cx="1966.3" cy="1427.7" r="7.75" fill="#1f77b4"/>
<circle cx="1974.4" cy="1423.2" r="7.75" fill="#1f77b4"/>
<circle cx="1985.1" cy="1425.0" r="7.75" fill="#1f77b4"/>
<circle cx="2000.4" cy="1430.4" r="7.75" fill="#1f77b4"/>
<circle cx="1978.8" cy="1441.6" r="7.75" fill="#1f77b4"/>
<circle cx="2003.5" cy="1442.0" r="7.75" fill="#1f77b4"/>
<circle cx="1996.8" cy="1455.5" r="7.75" fill="#1f77b4"/>
<circle cx="1956.0" cy="1470.8" r="7.75" fill="#1f77b4"/>
<circle cx="1968.1" cy="1474.3" r="7.75" fill="#1f77b4"/>
<circle cx="1979.7" cy="1467.2" r="7.75" fill="#1f77b4"/>
<circle cx="1952.8" cy="1479.3" r="7.75" fill="#1f77b4"/>
<circle cx="1979.2" cy="1480.6" r="7.75" fill="#1f77b4"/>
<circle cx="1952.3" cy="1492.3" r="7.75" fill="#1f77b4"/>
<circle cx="1981.9" cy="1497.7" r="7.75" fill="#1f77b4"/>
<circle cx="1967.6" cy="1492.8" r="7.75" fill="#1f77b4"/>
<circle cx="1979.2" cy="1500.8" r="7.75" fill="#1f77b4"/>
<circle cx="1974.7" cy="1510.3" r="7.75" fill="#1f77b4"/>
<circle cx="1960.8" cy="1506.7" r="7.75" fill="#1f77b4"/>
<circle cx="1940.6" cy="1518.3" r="7.75" fill="#1f77b4"/>
<circle cx="1962.2" cy="1518.3" r="7.75" fill="#1f77b4"/>
<circle cx="1974.7" cy="1523.7" r="7.75" fill="#1f77b4"/>
<circle cx="1952.3" cy="1531.8" r="7.75" fill="#1f77b4"/>
<circle cx="1963.1" cy="1530.9" r="7.75" fill="#1f77b4"/>
<circle cx="1954.1" cy="1547.9" r="7.75" fill="#1f77b4"/>
<circle cx="2006.1" cy="1498.6" r="7.75" fill="#1f77b4"/>
<circle cx="2001.7" cy="1517.4" r="7.75" fill="#1f77b4"/>
<circle cx="2015.1" cy="1529.1" r="7.75" fill="#1f77b4"/>
<circle cx="1997.2" cy="1538.1" r="7.75" fill="#1f77b4"/>
<circle cx="2000.8" cy="1543.5" r="7.75" fill="#1f77b4"/>
<circle cx="2019.2" cy="1540.3" r="7.75" fill="#1f77b4"/>
<circle cx="2008.8" cy="1557.8" r="7.75" fill="#1f77b4"/>
<circle cx="1994.5" cy="1557.8" r="7.75" fill="#1f77b4"/>
<circle cx="2003.0" cy="1568.1" r="7.75" fill="#1f77b4"/>
<circle cx="2016.9" cy="1567.7" r="7.75" fill="#1f77b4"/>
<circle cx="2030.8" cy="1569.9" r="7.75" fill="#1f77b4"/>
<circle cx="2060.0" cy="1559.2" r="7.75" fill="#1f77b4"/>
<circle cx="2014.2" cy="1582.9" r="7.75" fill="#1f77b4"/>
<circle cx="1996.7" cy="1583.4" r="7.75" fill="#1f77b4"/>
<circle cx="2026.8" cy="1583.4" r="7.75" fill="#1f77b4"/>
<circle cx="1953.2" cy="1586.5" r="7.75" fill="#1f77b4"/>
<circle cx="1995.4" cy="1598.2" r="7.75" fill="#1f77b4"/>
<circle cx="1999.0" cy="1594.6" r="7.75" fill="#1f77b4"/>
<circle cx="2016.9" cy="1601.8" r="7.75" fill="#1f77b4"/>
<circle cx="2014.2" cy="1595.5" r="7.75" fill="#1f77b4"/>
<circle cx="2068.1" cy="1609.4" r="7.75" fill="#1f77b4"/>
<circle cx="1960.2" cy="1619.0" r="7.75" fill="#1f77b4"/>
<circle cx="1998.6" cy="1596.2" r="7.75" fill="#1f77b4"/>
<circle cx="1995.9" cy="1600.2" r="7.75" fill="#1f77b4"/>
<circle cx="2018.1" cy="1603.6" r="7.75" fill="#1f77b4"/>
<circle cx="1997.9" cy="1611.6" r="7.75" fill="#1f77b4"/>
<circle cx="2004.6" cy="1617.7" r="7.75" fill="#1f77b4"/>
<circle cx="2001.9" cy="1625.8" r="7.75" fill="#1f77b4"/>
<circle cx="2011.3" cy="1620.4" r="7.75" fill="#1f77b4"/>
<circle cx="2023.5" cy="1635.2" r="7.75" fill="#1f77b4"/>
<circle cx="2014.0" cy="1630.5" r="7.75" fill="#1f77b4"/>
<circle cx="2004.6" cy="1640.6" r="7.75" fill="#1f77b4"/>
<circle cx="2012.7" cy="1642.9" r="7.75" fill="#1f77b4"/>
<circle cx="2012.7" cy="1652.7" r="7.75" fill="#1f77b4"/>
<circle cx="2013.4" cy="1662.1" r="7.75" fill="#1f77b4"/>
<circle cx="2011.3" cy="1669.5" r="7.75" fill="#1f77b4"/>
<circle cx="1361.4" cy="1680.7" r="7.75" fill="#2ca02c"/>
<circle cx="1288.8" cy="1693.0" r="7.75" fill="#2ca02c"/>
<circle cx="1325.6" cy="1702.7" r="7.75" fill="#2ca02c"/>
<circle cx="1326.5" cy="1709.0" r="7.75" fill="#2ca02c"/>
<circle cx="1303.7" cy="1700.0" r="7.75" fill="#2ca02c"/>
<circle cx="1314.9" cy="1706.7" r="7.75" fill="#2ca02c"/>
<circle cx="1297.8" cy="1712.6" r="7.75" fill="#2ca02c"/>
<circle cx="1297.8" cy="1722.0" r="7.75" fill="#2ca02c"/>
<circle cx="1335.5" cy="1720.6" r="7.75" fill="#2ca02c"/>
<circle cx="1314.0" cy="1726.9" r="7.75" fill="#2ca02c"/>
<circle cx="1331.0" cy="1723.3" r="7.75" fill="#2ca02c"/>
<circle cx="1328.8" cy="1734.1" r="7.75" fill="#2ca02c"/>
<circle cx="1314.4" cy="1735.0" r="7.75" fill="#2ca02c"/>
<circle cx="1305.0" cy="1743.1" r="7.75" fill="#2ca02c"/>
<circle cx="1324.7" cy="1745.3" r="7.75" fill="#2ca02c"/>
<circle cx="1340.9" cy="1746.7" r="7.75" fill="#2ca02c"/>
<circle cx="1362.9" cy="1716.1" r="7.75" fill="#2ca02c"/>
<circle cx="1372.3" cy="1720.6" r="7.75" fill="#2ca02c"/>
<circle cx="1361.1" cy="1726.9" r="7.75" fill="#2ca02c"/>
<circle cx="1372.7" cy="1731.0" r="7.75" fill="#2ca02c"/>
<circle cx="1376.3" cy="1742.2" r="7.75" fill="#2ca02c"/>
<circle cx="1359.7" cy="1747.6" r="7.75" fill="#2ca02c"/>
<circle cx="1345.4" cy="1758.8" r="7.75" fill="#2ca02c"/>
<circle cx="1328.3" cy="1767.7" r="7.75" fill="#2ca02c"/>
<circle cx="1369.6" cy="1770.9" r="7.75" fill="#2ca02c"/>
<circle cx="1356.1" cy="1773.6" r="7.75" fill="#2ca02c"/>
<circle cx="1378.6" cy="1774.0" r="7.75" fill="#2ca02c"/>
<circle cx="1352.6" cy="1780.8" r="7.75" fill="#2ca02c"/>
<circle cx="1361.1" cy="1763.7" r="7.75" fill="#2ca02c"/>
<circle cx="1371.4" cy="1782.1" r="7.75" fill="#2ca02c"/>
<circle cx="1363.8" cy="1791.5" r="7.75" fill="#2ca02c"/>
<circle cx="1291.5" cy="1786.1" r="7.75" fill="#2ca02c"/>
<circle cx="1401.0" cy="1763.7" r="7.75" fill="#2ca02c"/>
<circle cx="1399.2" cy="1783.5" r="7.75" fill="#2ca02c"/>
<circle cx="1406.8" cy="1792.4" r="7.75" fill="#2ca02c"/>
<circle cx="1397.4" cy="1774.0" r="7.75" fill="#2ca02c"/>
<circle cx="1409.1" cy="1779.4" r="7.75" fill="#2ca02c"/>
<circle cx="1417.2" cy="1800.5" r="7.75" fill="#2ca02c"/>
<circle cx="1431.4" cy="1780.8" r="7.75" fill="#2ca02c"/>
<circle cx="1427.8" cy="1800.4" r="7.75" fill="#2ca02c"/>
<circle cx="1432.3" cy="1806.7" r="7.75" fill="#2ca02c"/>
<circle cx="1425.1" cy="1815.6" r="7.75" fill="#2ca02c"/>
<circle cx="1460.1" cy="1768.5" r="7.75" fill="#2ca02c"/>
<circle cx="1482.6" cy="1775.3" r="7.75" fill="#2ca02c"/>
<circle cx="1490.6" cy="1785.1" r="7.75" fill="#2ca02c"/>
<circle cx="1471.8" cy="1776.6" r="7.75" fill="#2ca02c"/>
<circle cx="1480.8" cy="1786.9" r="7.75" fill="#2ca02c"/>
<circle cx="1453.8" cy="1798.6" r="7.75" fill="#2ca02c"/>
<circle cx="1466.4" cy="1791.9" r="7.75" fill="#2ca02c"/>
<circle cx="1448.5" cy="1787.8" r="7.75" fill="#2ca02c"/>
<circle cx="1489.3" cy="1799.5" r="7.75" fill="#2ca02c"/>
<circle cx="1454.7" cy="1825.1" r="7.75" fill="#2ca02c"/>
<circle cx="1481.7" cy="1817.4" r="7.75" fill="#2ca02c"/>
<circle cx="1488.4" cy="1819.2" r="7.75" fill="#2ca02c"/>
<circle cx="1505.9" cy="1822.8" r="7.75" fill="#2ca02c"/>
<circle cx="1513.1" cy="1831.8" r="7.75" fill="#2ca02c"/>
<circle cx="1512.6" cy="1812.0" r="7.75" fill="#2ca02c"/>
<circle cx="1501.0" cy="1830.0" r="7.75" fill="#2ca02c"/>
<circle cx="1507.2" cy="1842.6" r="7.75" fill="#2ca02c"/>
<circle cx="1492.9" cy="1850.6" r="7.75" fill="#2ca02c"/>
<circle cx="1497.8" cy="1859.6" r="7.75" fill="#2ca02c"/>
<circle cx="1544.5" cy="1824.6" r="7.75" fill="#2ca02c"/>
<circle cx="1531.9" cy="1840.8" r="7.75" fill="#2ca02c"/>
<circle cx="1538.6" cy="1840.8" r="7.75" fill="#2ca02c"/>
<circle cx="1549.0" cy="1832.7" r="7.75" fill="#2ca02c"/>
<circle cx="1546.3" cy="1850.6" r="7.75" fill="#2ca02c"/>
<circle cx="1532.8" cy="1875.8" r="7.75" fill="#2ca02c"/>
<circle cx="1532.8" cy="1864.1" r="7.75" fill="#2ca02c"/>
<circle cx="1560.4" cy="1846.0" r="7.75" fill="#2ca02c"/>
<circle cx="1576.1" cy="1839.8" r="7.75" fill="#2ca02c"/>
<circle cx="1554.8" cy="1859.5" r="7.75" fill="#2ca02c"/>
<circle cx="1569.4" cy="1861.7" r="7.75" fill="#2ca02c"/>
<circle cx="1569.4" cy="1871.8" r="7.75" fill="#2ca02c"/>
<circle cx="1548.0" cy="1874.0" r="7.75" fill="#2ca02c"/>
<circle cx="1557.6" cy="1873.5" r="7.75" fill="#2ca02c"/>
<circle cx="1590.7" cy="1851.0" r="7.75" fill="#2ca02c"/>
<circle cx="1585.6" cy="1860.0" r="7.75" fill="#2ca02c"/>
<circle cx="1598.0" cy="1859.5" r="7.75" fill="#2ca02c"/>
<circle cx="1577.8" cy="1889.7" r="7.75" fill="#2ca02c"/>
<circle cx="1613.1" cy="1876.3" r="7.75" fill="#2ca02c"/>
<circle cx="1611.4" cy="1886.4" r="7.75" fill="#2ca02c"/>
<circle cx="1599.1" cy="1885.8" r="7.75" fill="#2ca02c"/>
<circle cx="1618.1" cy="1895.3" r="7.75" fill="#2ca02c"/>
<circle cx="1632.2" cy="1896.5" r="7.75" fill="#2ca02c"/>
<circle cx="1650.1" cy="1893.7" r="7.75" fill="#2ca02c"/>
<circle cx="1607.5" cy="1908.8" r="7.75" fill="#2ca02c"/>
<circle cx="1647.9" cy="1915.5" r="7.75" fill="#2ca02c"/>
<circle cx="1641.1" cy="1917.8" r="7.75" fill="#2ca02c"/>
<circle cx="1632.2" cy="1917.2" r="7.75" fill="#2ca02c"/>
<circle cx="1663.6" cy="1898.7" r="7.75" fill="#2ca02c"/>
<circle cx="1656.8" cy="1903.2" r="7.75" fill="#2ca02c"/>
<circle cx="1680.4" cy="1906.6" r="7.75" fill="#2ca02c"/>
<circle cx="1663.6" cy="1921.1" r="7.75" fill="#2ca02c"/>
<circle cx="1666.9" cy="1913.3" r="7.75" fill="#2ca02c"/>
<circle cx="1679.3" cy="1920.0" r="7.75" fill="#2ca02c"/>
<circle cx="1671.4" cy="1931.2" r="7.75" fill="#2ca02c"/>
<circle cx="1683.8" cy="1933.5" r="7.75" fill="#2ca02c"/>
<circle cx="1704.0" cy="1931.2" r="7.75" fill="#2ca02c"/>
<circle cx="1691.6" cy="1946.9" r="7.75" fill="#2ca02c"/>
<circle cx="1695.0" cy="1940.2" r="7.75" fill="#2ca02c"/>
<circle cx="1699.5" cy="1940.2" r="7.75" fill="#2ca02c"/>
</g>
<g stroke="#000" fill="none" stroke-linecap="butt">
<rect x="161.0" y="30.0" width="851.30" height="830.50" fill="none" stroke-width="2.2"/>
<line x1="151.5" y1="48.9" x2="161.0" y2="48.9" stroke-width="2.2"/>
<line x1="151.5" y1="208.3" x2="161.0" y2="208.3" stroke-width="2.2"/>
<line x1="151.5" y1="367.5" x2="161.0" y2="367.5" stroke-width="2.2"/>
<line x1="151.5" y1="527.5" x2="161.0" y2="527.5" stroke-width="2.2"/>
<line x1="151.5" y1="686.6" x2="161.0" y2="686.6" stroke-width="2.2"/>
<line x1="151.5" y1="846.6" x2="161.0" y2="846.6" stroke-width="2.2"/>
<line x1="294.9" y1="860.5" x2="294.9" y2="870.0" stroke-width="2.2"/>
<line x1="453.9" y1="860.5" x2="453.9" y2="870.0" stroke-width="2.2"/>
<line x1="613.8" y1="860.5" x2="613.8" y2="870.0" stroke-width="2.2"/>
<line x1="773.8" y1="860.5" x2="773.8" y2="870.0" stroke-width="2.2"/>
<line x1="932.9" y1="860.5" x2="932.9" y2="870.0" stroke-width="2.2"/>
<rect x="1250.8" y="34.9" width="855.40" height="830.70" fill="none" stroke-width="2.2"/>
<line x1="1241.3" y1="36.8" x2="1250.8" y2="36.8" stroke-width="2.2"/>
<line x1="1241.3" y1="174.8" x2="1250.8" y2="174.8" stroke-width="2.2"/>
<line x1="1241.3" y1="312.7" x2="1250.8" y2="312.7" stroke-width="2.2"/>
<line x1="1241.3" y1="451.4" x2="1250.8" y2="451.4" stroke-width="2.2"/>
<line x1="1241.3" y1="589.9" x2="1250.8" y2="589.9" stroke-width="2.2"/>
<line x1="1241.3" y1="727.6" x2="1250.8" y2="727.6" stroke-width="2.2"/>
<line x1="1250.8" y1="865.6" x2="1250.8" y2="875.1" stroke-width="2.2"/>
<line x1="1397.9" y1="865.6" x2="1397.9" y2="875.1" stroke-width="2.2"/>
<line x1="1544.9" y1="865.6" x2="1544.9" y2="875.1" stroke-width="2.2"/>
<line x1="1692.1" y1="865.6" x2="1692.1" y2="875.1" stroke-width="2.2"/>
<line x1="1838.9" y1="865.6" x2="1838.9" y2="875.1" stroke-width="2.2"/>
<line x1="1986.2" y1="865.6" x2="1986.2" y2="875.1" stroke-width="2.2"/>
<rect x="162.2" y="1148.8" width="849.90" height="832.20" fill="none" stroke-width="2.2"/>
<line x1="152.7" y1="1213.8" x2="162.2" y2="1213.8" stroke-width="2.2"/>
<line x1="152.7" y1="1343.7" x2="162.2" y2="1343.7" stroke-width="2.2"/>
<line x1="152.7" y1="1472.9" x2="162.2" y2="1472.9" stroke-width="2.2"/>
<line x1="152.7" y1="1601.9" x2="162.2" y2="1601.9" stroke-width="2.2"/>
<line x1="152.7" y1="1730.8" x2="162.2" y2="1730.8" stroke-width="2.2"/>
<line x1="152.7" y1="1859.9" x2="162.2" y2="1859.9" stroke-width="2.2"/>
<line x1="199.8" y1="1981.0" x2="199.8" y2="1990.5" stroke-width="2.2"/>
<line x1="341.9" y1="1981.0" x2="341.9" y2="1990.5" stroke-width="2.2"/>
<line x1="483.8" y1="1981.0" x2="483.8" y2="1990.5" stroke-width="2.2"/>
<line x1="625.9" y1="1981.0" x2="625.9" y2="1990.5" stroke-width="2.2"/>
<line x1="767.8" y1="1981.0" x2="767.8" y2="1990.5" stroke-width="2.2"/>
<line x1="910.6" y1="1981.0" x2="910.6" y2="1990.5" stroke-width="2.2"/>
<rect x="1250.2" y="1148.8" width="855.80" height="831.20" fill="none" stroke-width="2.2"/>
<line x1="1240.7" y1="1190.6" x2="1250.2" y2="1190.6" stroke-width="2.2"/>
<line x1="1240.7" y1="1297.6" x2="1250.2" y2="1297.6" stroke-width="2.2"/>
<line x1="1240.7" y1="1404.5" x2="1250.2" y2="1404.5" stroke-width="2.2"/>
<line x1="1240.7" y1="1511.0" x2="1250.2" y2="1511.0" stroke-width="2.2"/>
<line x1="1240.7" y1="1618.0" x2="1250.2" y2="1618.0" stroke-width="2.2"/>
<line x1="1240.7" y1="1724.4" x2="1250.2" y2="1724.4" stroke-width="2.2"/>
<line x1="1240.7" y1="1831.6" x2="1250.2" y2="1831.6" stroke-width="2.2"/>
<line x1="1240.7" y1="1937.6" x2="1250.2" y2="1937.6" stroke-width="2.2"/>
<line x1="1294.8" y1="1980.0" x2="1294.8" y2="1989.5" stroke-width="2.2"/>
<line x1="1402.8" y1="1980.0" x2="1402.8" y2="1989.5" stroke-width="2.2"/>
<line x1="1511.8" y1="1980.0" x2="1511.8" y2="1989.5" stroke-width="2.2"/>
<line x1="1620.9" y1="1980.0" x2="1620.9" y2="1989.5" stroke-width="2.2"/>
<line x1="1728.9" y1="1980.0" x2="1728.9" y2="1989.5" stroke-width="2.2"/>
<line x1="1837.8" y1="1980.0" x2="1837.8" y2="1989.5" stroke-width="2.2"/>
<line x1="1946.8" y1="1980.0" x2="1946.8" y2="1989.5" stroke-width="2.2"/>
<line x1="2054.9" y1="1980.0" x2="2054.9" y2="1989.5" stroke-width="2.2"/>
</g>
<g>
<text x="32.79" y="83.00" font-size="61.5" textLength="88.86" lengthAdjust="spacingAndGlyphs">100</text>
<text x="60.44" y="227.40" font-size="61.5" textLength="61.30" lengthAdjust="spacingAndGlyphs">50</text>
<text x="91.06" y="388.10" font-size="61.5" textLength="30.67" lengthAdjust="spacingAndGlyphs">0</text>
<text x="40.03" y="559.10" font-size="61.5" textLength="81.71" lengthAdjust="spacingAndGlyphs">-50</text>
<text x="10.75" y="704.60" font-size="61.5" textLength="110.95" lengthAdjust="spacingAndGlyphs">-100</text>
<text x="10.75" y="865.30" font-size="61.5" textLength="110.95" lengthAdjust="spacingAndGlyphs">-150</text>
<text x="233.55" y="935.20" font-size="61.5" textLength="111.06" lengthAdjust="spacingAndGlyphs">-100</text>
<text x="426.59" y="935.20" font-size="61.5" textLength="82.88" lengthAdjust="spacingAndGlyphs">-50</text>
<text x="597.77" y="935.20" font-size="61.5" textLength="31.85" lengthAdjust="spacingAndGlyphs">0</text>
<text x="743.03" y="935.20" font-size="61.5" textLength="61.41" lengthAdjust="spacingAndGlyphs">50</text>
<text x="875.13" y="935.20" font-size="61.5" textLength="88.21" lengthAdjust="spacingAndGlyphs">100</text>
<text x="1147.51" y="83.50" font-size="61.5" textLength="59.10" lengthAdjust="spacingAndGlyphs">15</text>
<text x="1146.46" y="192.30" font-size="61.5" textLength="58.47" lengthAdjust="spacingAndGlyphs">10</text>
<text x="1176.90" y="333.70" font-size="61.5" textLength="29.29" lengthAdjust="spacingAndGlyphs">5</text>
<text x="1177.25" y="463.30" font-size="61.5" textLength="30.79" lengthAdjust="spacingAndGlyphs">0</text>
<text x="1165.41" y="609.30" font-size="61.5" textLength="49.09" lengthAdjust="spacingAndGlyphs">-5</text>
<text x="1135.16" y="745.60" font-size="61.5" textLength="80.54" lengthAdjust="spacingAndGlyphs">-10</text>
<text x="1135.19" y="860.20" font-size="61.5" textLength="79.33" lengthAdjust="spacingAndGlyphs">-15</text>
<text x="1217.15" y="936.10" font-size="61.5" textLength="80.82" lengthAdjust="spacingAndGlyphs">-15</text>
<text x="1352.04" y="936.10" font-size="61.5" textLength="81.29" lengthAdjust="spacingAndGlyphs">-10</text>
<text x="1516.85" y="936.10" font-size="61.5" textLength="48.32" lengthAdjust="spacingAndGlyphs">-5</text>
<text x="1673.00" y="936.10" font-size="61.5" textLength="31.50" lengthAdjust="spacingAndGlyphs">0</text>
<text x="1823.99" y="936.10" font-size="61.5" textLength="30.16" lengthAdjust="spacingAndGlyphs">5</text>
<text x="1952.85" y="936.10" font-size="61.5" textLength="59.72" lengthAdjust="spacingAndGlyphs">10</text>
<text x="63.38" y="1232.30" font-size="61.5" textLength="57.16" lengthAdjust="spacingAndGlyphs">15</text>
<text x="63.27" y="1352.80" font-size="61.5" textLength="58.35" lengthAdjust="spacingAndGlyphs">10</text>
<text x="91.07" y="1487.50" font-size="61.5" textLength="29.54" lengthAdjust="spacingAndGlyphs">5</text>
<text x="91.50" y="1618.50" font-size="61.5" textLength="30.20" lengthAdjust="spacingAndGlyphs">0</text>
<text x="71.62" y="1748.10" font-size="61.5" textLength="48.98" lengthAdjust="spacingAndGlyphs">-5</text>
<text x="40.03" y="1882.70" font-size="61.5" textLength="81.71" lengthAdjust="spacingAndGlyphs">-10</text>
<text x="40.15" y="1999.70" font-size="61.5" textLength="80.92" lengthAdjust="spacingAndGlyphs">-15</text>
<text x="165.57" y="2069.80" font-size="61.5" textLength="80.23" lengthAdjust="spacingAndGlyphs">-10</text>
<text x="315.84" y="2059.70" font-size="61.5" textLength="48.54" lengthAdjust="spacingAndGlyphs">-5</text>
<text x="465.83" y="2059.70" font-size="61.5" textLength="29.85" lengthAdjust="spacingAndGlyphs">0</text>
<text x="609.45" y="2059.70" font-size="61.5" textLength="28.80" lengthAdjust="spacingAndGlyphs">5</text>
<text x="736.42" y="2059.70" font-size="61.5" textLength="57.78" lengthAdjust="spacingAndGlyphs">10</text>
<text x="877.40" y="2059.70" font-size="61.5" textLength="56.93" lengthAdjust="spacingAndGlyphs">15</text>
<text x="1146.55" y="1207.30" font-size="61.5" textLength="61.70" lengthAdjust="spacingAndGlyphs">30</text>
<text x="1146.38" y="1318.10" font-size="61.5" textLength="61.88" lengthAdjust="spacingAndGlyphs">20</text>
<text x="1155.16" y="1422.30" font-size="61.5" textLength="58.47" lengthAdjust="spacingAndGlyphs">10</text>
<text x="1183.02" y="1532.00" font-size="61.5" textLength="29.96" lengthAdjust="spacingAndGlyphs">0</text>
<text x="1137.43" y="1638.90" font-size="61.5" textLength="81.71" lengthAdjust="spacingAndGlyphs">-10</text>
<text x="1140.79" y="1743.10" font-size="61.5" textLength="79.38" lengthAdjust="spacingAndGlyphs">-20</text>
<text x="1136.36" y="1853.40" font-size="61.5" textLength="80.54" lengthAdjust="spacingAndGlyphs">-30</text>
<text x="1137.43" y="1964.20" font-size="61.5" textLength="81.71" lengthAdjust="spacingAndGlyphs">-40</text>
<text x="1267.57" y="2059.70" font-size="61.5" textLength="80.23" lengthAdjust="spacingAndGlyphs">-30</text>
<text x="1371.57" y="2059.70" font-size="61.5" textLength="80.23" lengthAdjust="spacingAndGlyphs">-20</text>
<text x="1472.47" y="2059.70" font-size="61.5" textLength="80.23" lengthAdjust="spacingAndGlyphs">-10</text>
<text x="1608.73" y="2059.70" font-size="61.5" textLength="29.85" lengthAdjust="spacingAndGlyphs">0</text>
<text x="1694.57" y="2059.70" font-size="61.5" textLength="58.35" lengthAdjust="spacingAndGlyphs">10</text>
<text x="1793.49" y="2059.70" font-size="61.5" textLength="61.77" lengthAdjust="spacingAndGlyphs">20</text>
<text x="1914.39" y="2059.70" font-size="61.5" textLength="60.72" lengthAdjust="spacingAndGlyphs">30</text>
<text x="2025.42" y="2059.70" font-size="61.5" textLength="60.27" lengthAdjust="spacingAndGlyphs">40</text>
<text x="317.93" y="1071.00" font-size="61.5" textLength="67.33" lengthAdjust="spacingAndGlyphs">(a)</text>
<text x="399.02" y="1071.00" font-size="61.5" textLength="60.28" lengthAdjust="spacingAndGlyphs">no</text>
<text x="473.38" y="1071.00" font-size="61.5" textLength="213.04" lengthAdjust="spacingAndGlyphs">synthetic</text>
<text x="711.68" y="1071.00" font-size="61.5" textLength="212.21" lengthAdjust="spacingAndGlyphs">instances</text>
<text x="1322.08" y="1031.40" font-size="61.5" textLength="72.25" lengthAdjust="spacingAndGlyphs">(b)</text>
<text x="1407.85" y="1031.40" font-size="61.5" textLength="105.72" lengthAdjust="spacingAndGlyphs">each</text>
<text x="1534.01" y="1031.40" font-size="61.5" textLength="106.83" lengthAdjust="spacingAndGlyphs">fault</text>
<text x="1658.42" y="1031.40" font-size="61.5" textLength="102.75" lengthAdjust="spacingAndGlyphs">type</text>
<text x="1779.53" y="1031.40" font-size="61.5" textLength="140.69" lengthAdjust="spacingAndGlyphs">added</text>
<text x="1938.23" y="1031.40" font-size="61.5" textLength="91.29" lengthAdjust="spacingAndGlyphs">200</text>
<text x="1448.08" y="1102.20" font-size="61.5" textLength="213.04" lengthAdjust="spacingAndGlyphs">synthetic</text>
<text x="1684.58" y="1102.20" font-size="61.5" textLength="213.83" lengthAdjust="spacingAndGlyphs">instances</text>
<text x="260.85" y="2179.50" font-size="61.5" textLength="67.01" lengthAdjust="spacingAndGlyphs">(c)</text>
<text x="341.64" y="2179.50" font-size="61.5" textLength="105.82" lengthAdjust="spacingAndGlyphs">each</text>
<text x="473.72" y="2179.50" font-size="61.5" textLength="105.92" lengthAdjust="spacingAndGlyphs">fault</text>
<text x="597.11" y="2179.50" font-size="61.5" textLength="103.98" lengthAdjust="spacingAndGlyphs">type</text>
<text x="713.42" y="2179.50" font-size="61.5" textLength="141.30" lengthAdjust="spacingAndGlyphs">added</text>
<text x="872.79" y="2179.50" font-size="61.5" textLength="91.12" lengthAdjust="spacingAndGlyphs">300</text>
<text x="387.29" y="2250.90" font-size="61.5" textLength="212.53" lengthAdjust="spacingAndGlyphs">synthetic</text>
<text x="624.59" y="2250.90" font-size="61.5" textLength="212.11" lengthAdjust="spacingAndGlyphs">instances</text>
<text x="1326.88" y="2180.30" font-size="61.5" textLength="72.14" lengthAdjust="spacingAndGlyphs">(d)</text>
<text x="1412.54" y="2180.30" font-size="61.5" textLength="106.02" lengthAdjust="spacingAndGlyphs">each</text>
<text x="1538.80" y="2180.30" font-size="61.5" textLength="106.94" lengthAdjust="spacingAndGlyphs">fault</text>
<text x="1665.73" y="2180.30" font-size="61.5" textLength="100.90" lengthAdjust="spacingAndGlyphs">type</text>
<text x="1783.85" y="2180.30" font-size="61.5" textLength="139.16" lengthAdjust="spacingAndGlyphs">added</text>
<text x="1944.37" y="2180.30" font-size="61.5" textLength="91.14" lengthAdjust="spacingAndGlyphs">500</text>
<text x="1453.59" y="2251.00" font-size="61.5" textLength="211.81" lengthAdjust="spacingAndGlyphs">synthetic</text>
<text x="1690.68" y="2251.00" font-size="61.5" textLength="212.41" lengthAdjust="spacingAndGlyphs">instances</text>
</g>
<g>
<ellipse cx="701.8" cy="2429" rx="20" ry="20" fill="#4472c4" stroke="#000" stroke-width="6"/>
<text x="778.99" y="2451.00" font-size="61.5" textLength="151.74" lengthAdjust="spacingAndGlyphs">fault 1</text>
<ellipse cx="1038.5" cy="2429" rx="19.5" ry="20" fill="#ff7f0e" stroke="#000" stroke-width="6"/>
<text x="1115.15" y="2451.00" font-size="61.5" textLength="155.68" lengthAdjust="spacingAndGlyphs">fault 2</text>
<ellipse cx="1382.5" cy="2429" rx="17.6" ry="20" fill="#2ca02c" stroke="#000" stroke-width="6"/>
<text x="1466.08" y="2451.00" font-size="61.5" textLength="152.52" lengthAdjust="spacingAndGlyphs">fault 3</text>
</g>
</svg>
</body></html>
